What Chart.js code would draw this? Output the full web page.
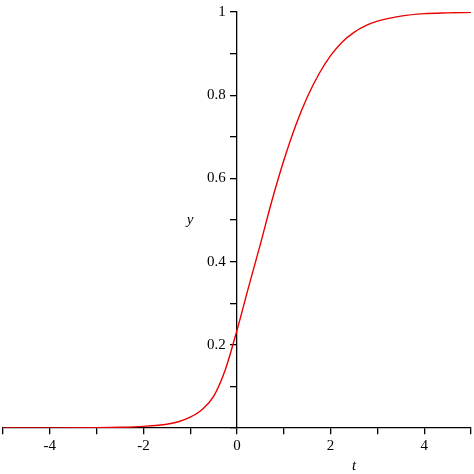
<!DOCTYPE html>
<html>
<head>
<meta charset="utf-8">
<script src="https://cdn.jsdelivr.net/npm/chart.js@4"></script>
<style>
  body { margin: 0; background: #fff; }
  #wrap { width: 474px; height: 474px; }
</style>
</head>
<body>
<div id="wrap"><canvas id="sigmoidChart"></canvas></div>
<script>
// values
const tValues = [-5, -4, -3, -2.5, -2, -1.5, -1.25, -1, -0.75, -0.5, -0.25, 0, 0.25, 0.5, 0.75, 1, 1.25, 1.5, 1.75, 2, 2.25, 2.5, 2.75, 3, 3.5, 4, 4.5, 5];
const yValues = [0, 0.0001, 0.0008, 0.0018, 0.004, 0.009, 0.015, 0.026, 0.044, 0.076, 0.14, 0.235, 0.34, 0.442, 0.548, 0.643, 0.726, 0.795, 0.851, 0.895, 0.928, 0.951, 0.967, 0.978, 0.99, 0.996, 0.998, 0.999];
const xLabelTicks = [-4, -2, 0, 2, 4];
const yLabelTicks = [0.2, 0.4, 0.6, 0.8, 1];

const points = [];
for (var i = 0; i < tValues.length; i++) {
  points.push({ x: tValues[i], y: yValues[i] });
}

// axis names "y" and "t"
const axisNames = {
  id: "axisNames",
  afterDraw(chart) {
    const c = chart.ctx;
    const xs = chart.scales.x;
    const ys = chart.scales.y;
    c.save();
    c.fillStyle = "#000";
    c.font = "italic 15px 'Liberation Serif', serif";
    c.textAlign = "center";
    c.textBaseline = "middle";
    c.fillText("y", xs.getPixelForValue(-1), ys.getPixelForValue(0.5));
    c.fillText("t", xs.getPixelForValue(2.5), ys.getPixelForValue(0) + 38);
    c.restore();
  },
};

const tickFont = { family: "'Liberation Serif', serif", size: 15 };

const ctx = document.getElementById("sigmoidChart").getContext("2d");
const myChart = new Chart(ctx, {
  type: "line",
  data: {
    datasets: [
      {
        data: points,
        borderColor: "rgb(235, 0, 0)",
        borderWidth: 1.4,
        pointRadius: 0,
        fill: false,
        cubicInterpolationMode: "monotone",
      },
    ],
  },
  options: {
    responsive: true,
    maintainAspectRatio: false,
    animation: false,
    layout: { padding: { left: 2, right: 1, top: 10, bottom: 46 } },
    plugins: { legend: { display: false }, tooltip: { enabled: false } },
    scales: {
      x: {
        type: "linear",
        min: -5,
        max: 5,
        position: { y: 0 },
        afterFit(scale) { scale.height = 0; },
        border: { display: true, color: "#000", width: 1.3 },
        grid: { drawOnChartArea: false, drawTicks: true, tickLength: 6, color: "#000", lineWidth: 1.3 },
        ticks: {
          stepSize: 1,
          autoSkip: false,
          maxRotation: 0,
          padding: 3,
          color: "#000",
          font: tickFont,
          callback: function (v) {
            return xLabelTicks.includes(v) ? String(v) : "";
          },
        },
      },
      y: {
        type: "linear",
        min: 0,
        max: 1,
        position: { x: 0 },
        afterFit(scale) { scale.width = 0; },
        border: { display: true, color: "#000", width: 1.3 },
        grid: { drawOnChartArea: false, drawTicks: true, tickLength: 6, color: "#000", lineWidth: 1.3 },
        ticks: {
          stepSize: 0.1,
          autoSkip: false,
          color: "#000",
          font: tickFont,
          callback: function (v) {
            const r = Math.round(v * 10) / 10;
            // labels are right aligned on the axis itself, spaces keep them clear of the ticks
            return yLabelTicks.includes(r) ? String(r) + "   " : "";
          },
        },
      },
    },
  },
  plugins: [axisNames],
});
</script>
</body>
</html>
